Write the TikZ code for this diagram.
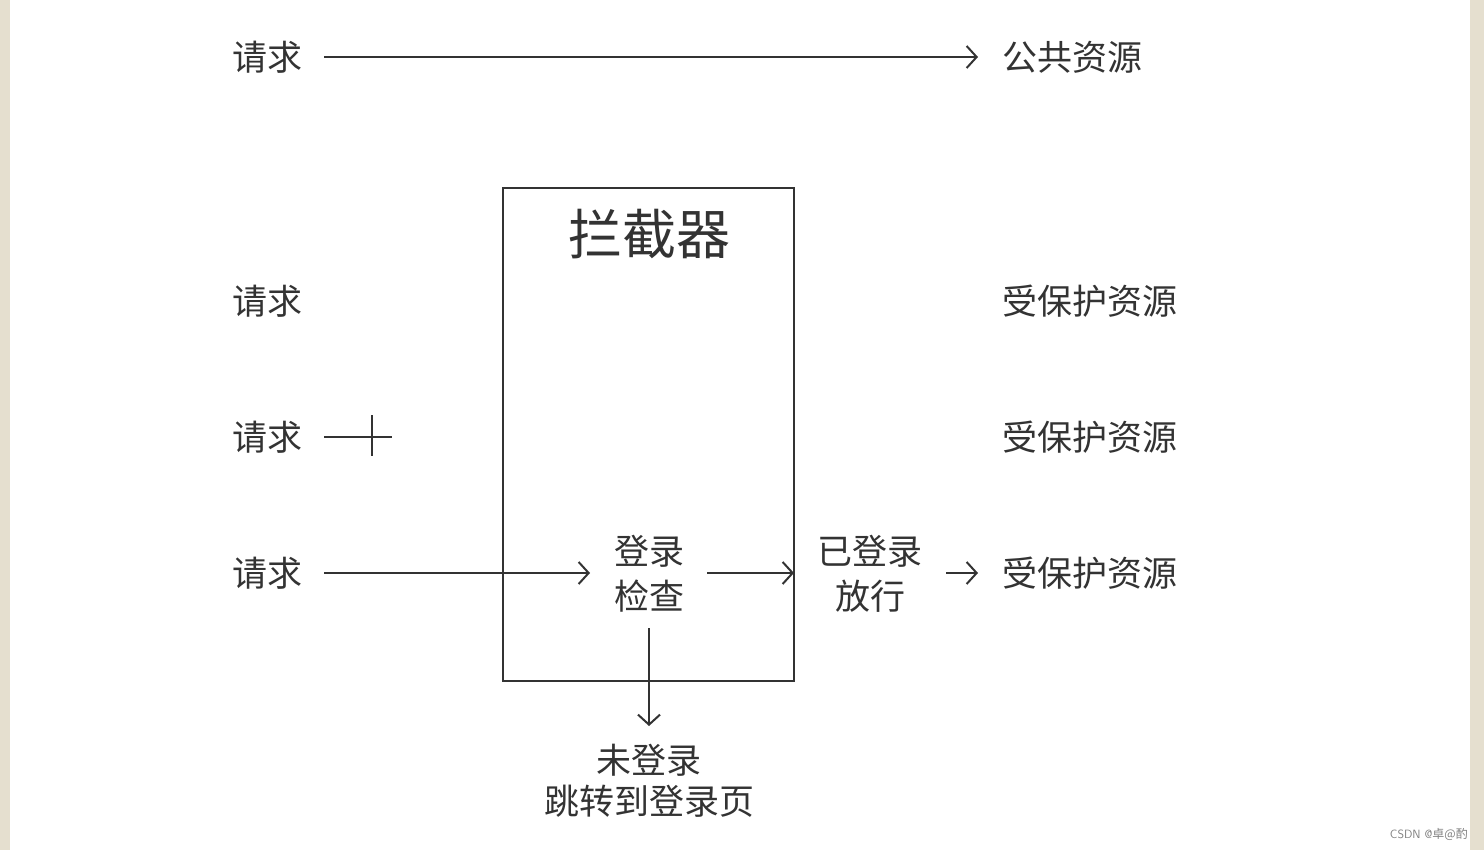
\documentclass[tikz,border=0pt]{standalone}
\usepackage{fontspec}
\newfontfamily\cjk{Noto Sans CJK SC}
\usetikzlibrary{arrows.meta}
\definecolor{side}{HTML}{E5DFCF}
\definecolor{ink}{HTML}{333333}
\begin{document}
\begin{tikzpicture}[x=1pt,y=-1pt,
  lbl/.style={font=\cjk\fontsize{35}{40}\selectfont, text=ink, inner sep=0pt},
  arr/.style={draw=ink, line width=2pt, -{Straight Barb[length=10pt,width=22pt,line width=2pt]}},
  ln/.style={draw=ink, line width=2pt}]
\useasboundingbox (0,0) rectangle (1484,850);
\fill[side] (0,0) rectangle (10,850);
\fill[side] (1470,0) rectangle (1484,850);
\node[lbl, anchor=west] (r1) at (232,57) {请求};
\node[lbl, anchor=west] (pub) at (1002,57) {公共资源};
\draw[arr] ([xshift=22pt]r1.east) -- ([xshift=-24pt]pub.west);
\draw[draw=ink, line width=1.8pt] (503,188) rectangle (794,681);
\node[lbl, font=\cjk\fontsize{54}{60}\selectfont] (title) at (649,234) {拦截器};
\node[lbl, anchor=west] (r2) at (232,301) {请求};
\node[lbl, anchor=west] (p1) at (1002,301) {受保护资源};
\node[lbl, anchor=west] (r3) at (232,437) {请求};
\node[lbl, anchor=west] (p2) at (1002,437) {受保护资源};
\coordinate (b1) at (392,437);
\coordinate (b2) at (372,415);
\coordinate (b3) at (372,456);
\draw[ln] ([xshift=22pt]r3.east) -- (b1);
\draw[ln] (b2) -- (b3);
\node[lbl, anchor=west] (r4) at (232,573) {请求};
\node[lbl, align=center, font=\cjk\fontsize{35}{45}\selectfont] (chk) at (649,574) {登录\\检查};
\node[lbl, align=center, font=\cjk\fontsize{35}{45}\selectfont] (ok) at (870,574) {已登录\\放行};
\node[lbl, anchor=west] (p3) at (1002,573) {受保护资源};
\coordinate (be) at (794,573);
\draw[arr] ([xshift=22pt]r4.east) -- (590,573);
\draw[arr] (707,573) -- (be);
\draw[arr] (946,573) -- ([xshift=-24pt]p3.west);
\node[lbl, align=center, font=\cjk\fontsize{35}{41}\selectfont, anchor=north] (no) at (649,744) {未登录\\跳转到登录页};
\draw[arr] (649,628) -- ([yshift=18pt]no.north);
\node[font=\sffamily\fontsize{12}{14}\selectfont, text=gray, anchor=east, inner sep=0pt] (wm) at (1468,834) {CSDN @\cjk 卓@酌};
\end{tikzpicture}
\end{document}
